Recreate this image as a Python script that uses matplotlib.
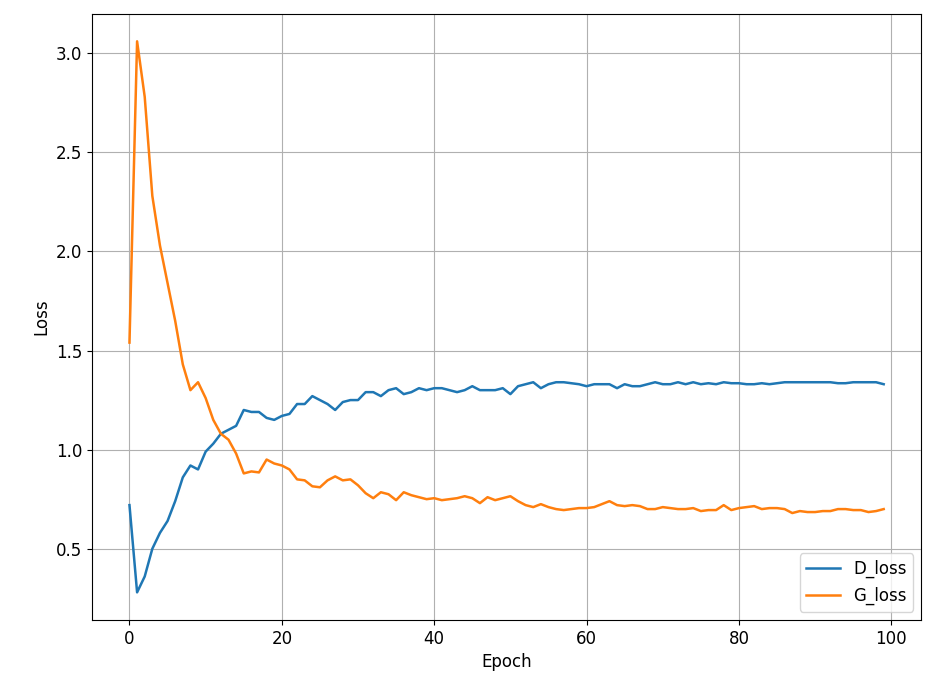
import numpy as np
from matplotlib import pyplot as plt

d_loss = [0.72, 0.28, 0.36, 0.50, 0.58, 0.64, 0.74, 0.86, 0.92, 0.90,
          0.99, 1.03, 1.08, 1.10, 1.12, 1.20, 1.19, 1.19, 1.16, 1.15,
          1.17, 1.18, 1.23, 1.23, 1.27, 1.25, 1.23, 1.20, 1.24, 1.25,
          1.25, 1.29, 1.29, 1.27, 1.30, 1.31, 1.28, 1.29, 1.31, 1.30,
          1.31, 1.31, 1.30, 1.29, 1.30, 1.32, 1.30, 1.30, 1.30, 1.31,
          1.28, 1.32, 1.33, 1.34, 1.31, 1.33, 1.34, 1.34, 1.335, 1.33,
          1.32, 1.33, 1.33, 1.33, 1.31, 1.33, 1.32, 1.32, 1.33, 1.34,
          1.33, 1.33, 1.34, 1.33, 1.34, 1.33, 1.335, 1.33, 1.34, 1.335,
          1.335, 1.33, 1.33, 1.335, 1.33, 1.335, 1.34, 1.34, 1.34, 1.34,
          1.34, 1.34, 1.34, 1.335, 1.335, 1.34, 1.34, 1.34, 1.34, 1.33]
g_loss = [1.54, 3.06, 2.78, 2.28, 2.03, 1.84, 1.65, 1.43, 1.30, 1.34,
          1.26, 1.15, 1.08, 1.05, 0.98, 0.88, 0.89, 0.885, 0.95, 0.93,
          0.92, 0.90, 0.85, 0.845, 0.815, 0.81, 0.845, 0.865, 0.845, 0.85,
          0.82, 0.78, 0.755, 0.785, 0.775, 0.745, 0.785, 0.77, 0.76, 0.75,
          0.755, 0.745, 0.75, 0.755, 0.765, 0.755, 0.73, 0.76, 0.745, 0.755,
          0.765, 0.74, 0.72, 0.71, 0.725, 0.71, 0.70, 0.695, 0.70, 0.705,
          0.705, 0.71, 0.725, 0.74, 0.72, 0.715, 0.72, 0.715, 0.70, 0.70,
          0.71, 0.705, 0.70, 0.70, 0.705, 0.69, 0.695, 0.695, 0.72, 0.695,
          0.705, 0.71, 0.715, 0.70, 0.705, 0.705, 0.70, 0.68, 0.69, 0.685,
          0.685, 0.69, 0.69, 0.70, 0.70, 0.695, 0.695, 0.685, 0.69, 0.70]
epochs = np.arange(len(d_loss))

plt.rcParams['font.size'] = 12
fig = plt.figure(figsize=(9.46, 6.88), dpi=100)
ax = fig.add_axes([0.097, 0.099, 0.877, 0.881])
ax.plot(epochs, d_loss, label='D_loss', lw=1.8)
ax.plot(epochs, g_loss, label='G_loss', lw=1.8)
ax.set_xlabel('Epoch')
ax.set_ylabel('Loss')
ax.grid(True)
ax.legend(loc='lower right')
fig.savefig('out.png')
